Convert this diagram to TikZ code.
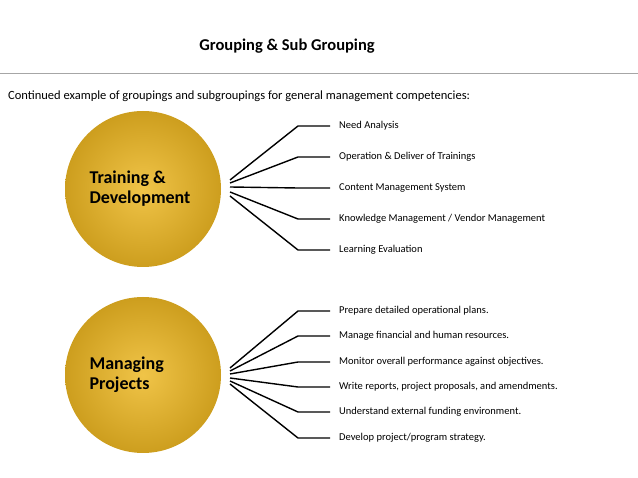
\documentclass[tikz,border=0pt]{standalone}
\usepackage{fontspec}
\setmainfont{Carlito}
\begin{document}
\begin{tikzpicture}[x=1pt,y=-1pt,
  ball/.style={circle,minimum size=156pt,inner sep=0pt,draw=none,inner color={rgb,255:red,240;green,196;blue,72},outer color={rgb,255:red,205;green,158;blue,30}},
  ctext/.style={font=\bfseries\fontsize{18}{20}\selectfont,align=left,anchor=west},
  item/.style={font=\fontsize{10.5}{12}\selectfont,anchor=west,inner sep=0pt},
  conn/.style={line width=1.4pt}]
\useasboundingbox (0,0) rectangle (638,478);
\node[font=\bfseries\fontsize{16.5}{19}\selectfont] (title) at (287,46) {Grouping \& Sub Grouping};
\draw[gray!70,line width=0.8pt] (0,73) -- (638,73);
\node[font=\fontsize{12.5}{14}\selectfont,anchor=west,inner sep=0pt] (sub) at (8,96) {Continued example of groupings and subgroupings for general management competencies:};
\node[ball] (c1) at (143,189) {};
\node[ctext] (t1) at (86,189) {Training \&\\Development};
\node[ball] (c2) at (143,375) {};
\node[ctext] (t2) at (86,375) {Managing\\Projects};
\foreach \i/\y/\s/\t in {1/126/180/{Need Analysis},2/157/183/{Operation \& Deliver of Trainings},3/188/187/{Content Management System},4/219/192/{Knowledge Management / Vendor Management},5/250/196/{Learning Evaluation}}{
  \node[item] (a\i) at (339,\y) {\t};
  \coordinate (s\i) at (230,\s);
  \coordinate (e\i) at (298,\y);
  \draw[conn] (s\i) -- (e\i) -- (a\i.west -| 330,0);
}
\foreach \i/\y/\s/\t in {1/311/368/{Prepare detailed operational plans.},2/336/371/{Manage financial and human resources.},3/362/374/{Monitor overall performance against objectives.},4/387/378/{Write reports, project proposals, and amendments.},5/412/381/{Understand external funding environment.},6/438/384/{Develop project/program strategy.}}{
  \node[item] (b\i) at (339,\y) {\t};
  \coordinate (u\i) at (230,\s);
  \coordinate (v\i) at (298,\y);
  \draw[conn] (u\i) -- (v\i) -- (b\i.west -| 330,0);
}
\end{tikzpicture}
\end{document}
